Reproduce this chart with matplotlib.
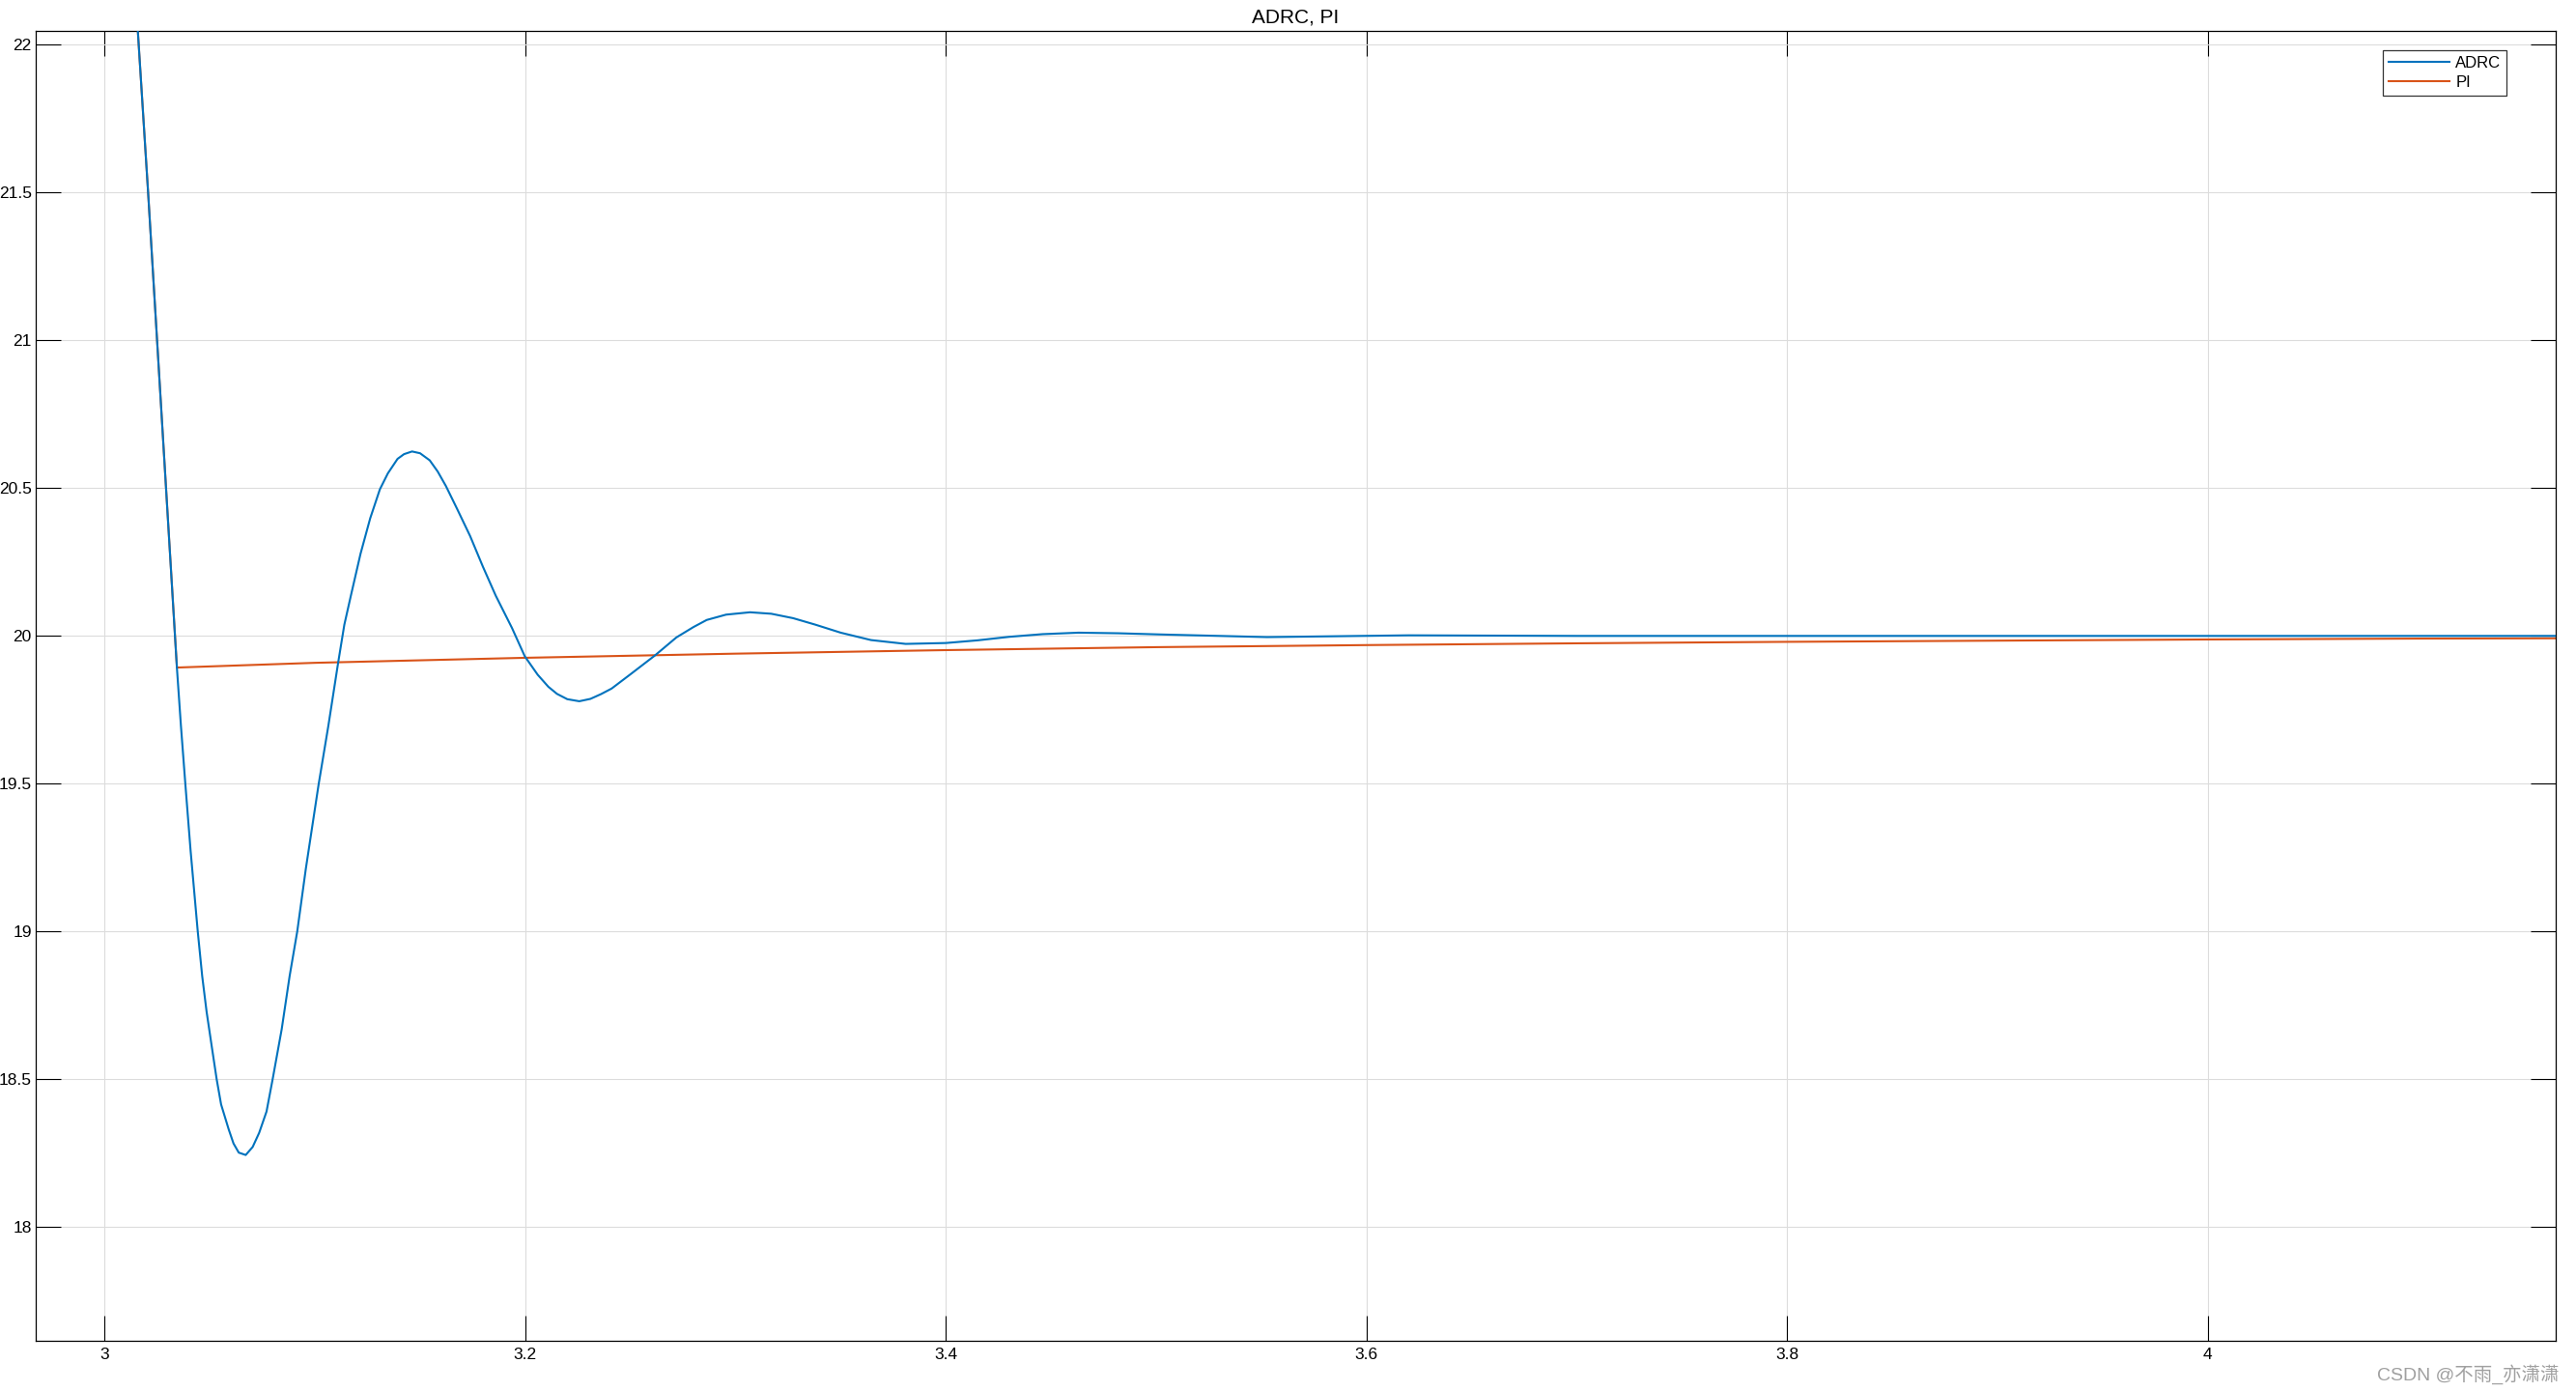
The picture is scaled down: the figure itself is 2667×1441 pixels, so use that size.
import matplotlib
matplotlib.use("Agg")
import matplotlib.pyplot as plt

plt.rcParams['font.family'] = ['Liberation Sans', 'Noto Sans CJK SC', 'DejaVu Sans']

# ADRC response
t_adrc = [3.0, 3.0158, 3.0207, 3.0344, 3.0363, 3.0384, 3.0409, 3.0443, 3.0464,
          3.0485, 3.0510, 3.0533, 3.0554, 3.0590, 3.0613, 3.0638, 3.0671, 3.0704,
          3.0735, 3.0770, 3.0799, 3.0842, 3.0880, 3.0916, 3.0957, 3.1018, 3.1064,
          3.1110, 3.1140, 3.1171, 3.1217, 3.1263, 3.1309, 3.1347, 3.1393, 3.1424,
          3.1462, 3.1500, 3.1546, 3.1584, 3.1623, 3.1676, 3.1738, 3.1799, 3.1860,
          3.1937, 3.1998, 3.2059, 3.2110, 3.2151, 3.2200, 3.2257, 3.2310, 3.2360,
          3.2411, 3.2500, 3.2617, 3.2719, 3.2800, 3.2863, 3.2955, 3.3069, 3.3170,
          3.3274, 3.3380, 3.3500, 3.3644, 3.3809, 3.4000, 3.4150, 3.4302, 3.4460,
          3.4631, 3.4820, 3.5017, 3.5527, 3.6200, 3.7000, 3.8500, 4.0000, 4.1655]
y_adrc = [23.80, 22.047, 21.50, 19.891, 19.696, 19.499, 19.273, 19.00, 18.850,
          18.729, 18.609, 18.50, 18.415, 18.331, 18.283, 18.252, 18.244, 18.271,
          18.319, 18.391, 18.50, 18.669, 18.850, 19.00, 19.213, 19.499, 19.696,
          19.907, 20.038, 20.136, 20.278, 20.398, 20.496, 20.550, 20.599, 20.615,
          20.624, 20.618, 20.594, 20.556, 20.507, 20.430, 20.338, 20.234, 20.136,
          20.027, 19.931, 19.869, 19.828, 19.804, 19.786, 19.779, 19.787, 19.803,
          19.822, 19.870, 19.934, 19.995, 20.030, 20.054, 20.072, 20.080, 20.075,
          20.060, 20.038, 20.011, 19.986, 19.973, 19.976, 19.985, 19.997, 20.006,
          20.011, 20.009, 20.005, 19.996, 20.002, 20.000, 20.000, 20.000, 20.000]

# PI response
t_pi = [3.0, 3.0158, 3.0207, 3.0344, 3.1, 3.2, 3.3, 3.4, 3.5, 3.6, 3.7, 3.8,
        3.9, 4.0, 4.1, 4.1655]
y_pi = [23.80, 22.047, 21.50, 19.893, 19.909, 19.926, 19.940, 19.952, 19.962,
        19.969, 19.975, 19.980, 19.984, 19.988, 19.991, 19.992]

xticks = [3, 3.2, 3.4, 3.6, 3.8, 4]
xtick_labels = ['3', '3.2', '3.4', '3.6', '3.8', '4']
yticks = [18, 18.5, 19, 19.5, 20, 20.5, 21, 21.5, 22]
ytick_labels = ['18', '18.5', '19', '19.5', '20', '20.5', '21', '21.5', '22']

fig = plt.figure(figsize=(26.67, 14.41), dpi=100)
ax = fig.add_axes([0.01387, 0.03678, 0.97826, 0.94101])

ax.plot(t_adrc, y_adrc, color='#0072BD', lw=1.5, label='ADRC', zorder=3)
ax.plot(t_pi, y_pi, color='#D95319', lw=1.5, label='PI', zorder=2)

ax.set_xlim(2.96726, 4.16547)
ax.set_ylim(17.6154, 22.0467)
ax.set_xticks(xticks)
ax.set_xticklabels(xtick_labels)
ax.set_yticks(yticks)
ax.set_yticklabels(ytick_labels)
ax.tick_params(direction='in', length=19, width=0.8, labelsize=12.5, pad=3,
               top=True, right=True, colors='black')
ax.tick_params(axis='x', pad=5)
ax.grid(True, color='#dcdcdc', lw=0.8)
ax.set_axisbelow(True)
for s in ax.spines.values():
    s.set_linewidth(0.9)
    s.set_color('black')

ax.set_title('ADRC, PI', fontsize=15, pad=6)

leg = ax.legend(loc='upper right', bbox_to_anchor=(0.9805, 0.9853), fontsize=12,
                frameon=True, fancybox=False, edgecolor='black', handlelength=3.8,
                handletextpad=0.36, borderpad=0.35, labelspacing=0.3, borderaxespad=0)
leg.get_frame().set_linewidth(0.9)

fig.text(0.9935, 0.0125, 'CSDN @不雨_亦潇潇', ha='right', va='center', fontsize=14,
         color='#a0a0a0')

fig.savefig('out.png', dpi=100)
